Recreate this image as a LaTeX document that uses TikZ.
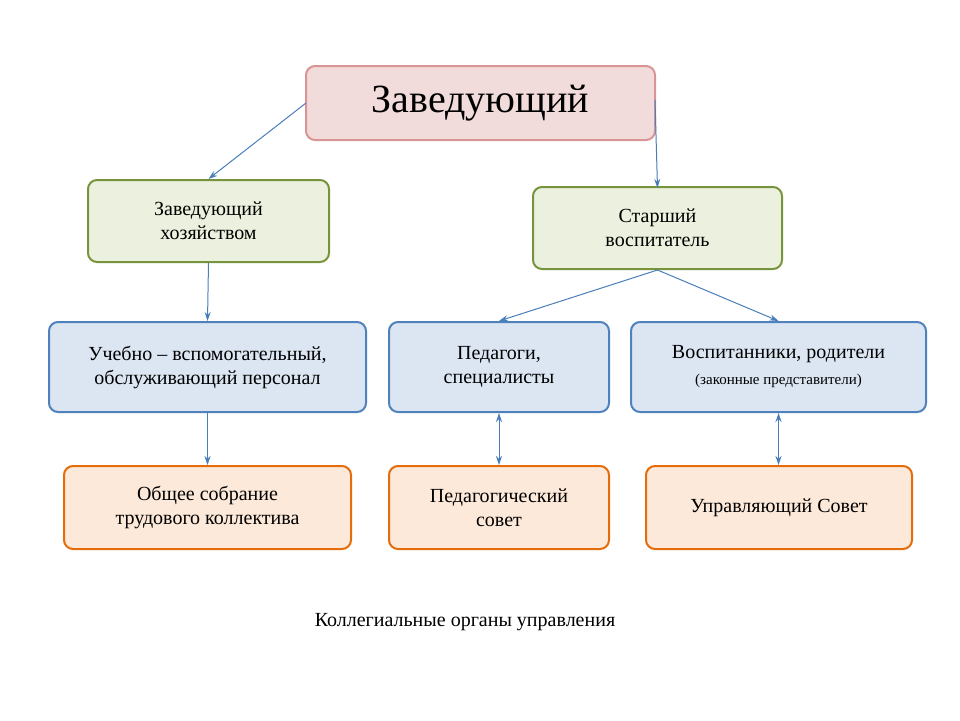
\documentclass[tikz,border=0pt]{standalone}
\usepackage{fontspec}
\setmainfont{Liberation Serif}
\usetikzlibrary{arrows.meta}
\definecolor{pinkf}{HTML}{F2DCDB}\definecolor{pinkd}{HTML}{D99594}
\definecolor{greenf}{HTML}{EBF1DE}\definecolor{greend}{HTML}{77933C}
\definecolor{bluef}{HTML}{DCE6F2}\definecolor{blued}{HTML}{4F81BD}
\definecolor{orf}{HTML}{FDE9D9}\definecolor{ord}{HTML}{E46C0A}
\definecolor{arr}{HTML}{4A7EBB}
\begin{document}
\begin{tikzpicture}[x=1pt,y=-1pt,
 box/.style={rounded corners=9pt,line width=2pt,align=center,inner sep=0pt,font=\fontsize{20}{24}\selectfont},
 pbox/.style={box,fill=pinkf,draw=pinkd},
 gbox/.style={box,fill=greenf,draw=greend},
 bbox/.style={box,fill=bluef,draw=blued},
 obox/.style={box,fill=orf,draw=ord},
 con/.style={draw=arr,line width=1pt,-{Stealth[length=9pt,width=6pt]}},
 dcon/.style={draw=arr,line width=1pt,{Stealth[length=9pt,width=6pt]}-{Stealth[length=9pt,width=6pt]}}]
\useasboundingbox (0,0) rectangle (960,720);
\node[pbox,minimum width=349pt,minimum height=74pt,font=\fontsize{40}{44}\selectfont] (top) at (480.5,103) {Заведующий};
\node[gbox,minimum width=241pt,minimum height=82pt] (zh) at (208.5,221) {Заведующий\\хозяйством};
\node[gbox,minimum width=249pt,minimum height=82pt] (sv) at (657.5,228) {Старший\\воспитатель};
\node[bbox,minimum width=317pt,minimum height=90pt] (uv) at (207.5,367) {Учебно – вспомогательный,\\обслуживающий персонал};
\node[bbox,minimum width=220pt,minimum height=90pt] (ps) at (499,367) {Педагоги,\\специалисты};
\node[bbox,minimum width=295pt,minimum height=90pt] (vr) at (778.5,367) {Воспитанники, родители\\[2pt]{\fontsize{15}{17}\selectfont(законные представители)}};
\node[obox,minimum width=287pt,minimum height=83pt] (os) at (207.5,507.5) {Общее собрание\\трудового коллектива};
\node[obox,minimum width=220pt,minimum height=83pt] (pss) at (499,507.5) {Педагогический\\совет};
\node[obox,minimum width=266pt,minimum height=83pt] (us) at (779,507.5) {Управляющий Совет};
\node[font=\fontsize{20}{24}\selectfont] (cap) at (465,622) {Коллегиальные органы управления};
\coordinate (tl) at (306,103); \coordinate (tr) at (655,100);
\draw[con] (tl) -- (zh.north);
\draw[con] (tr) -- ([yshift=-2pt]sv.north);
\draw[con] (zh.south) -- (uv.north);
\draw[con] (sv.south) -- (ps.north);
\draw[con] (sv.south) -- (vr.north);
\draw[con] (uv.south) -- (os.north);
\draw[dcon] (ps.south) -- (pss.north);
\draw[dcon] (vr.south) -- (us.north -| vr.south);
\end{tikzpicture}
\end{document}
